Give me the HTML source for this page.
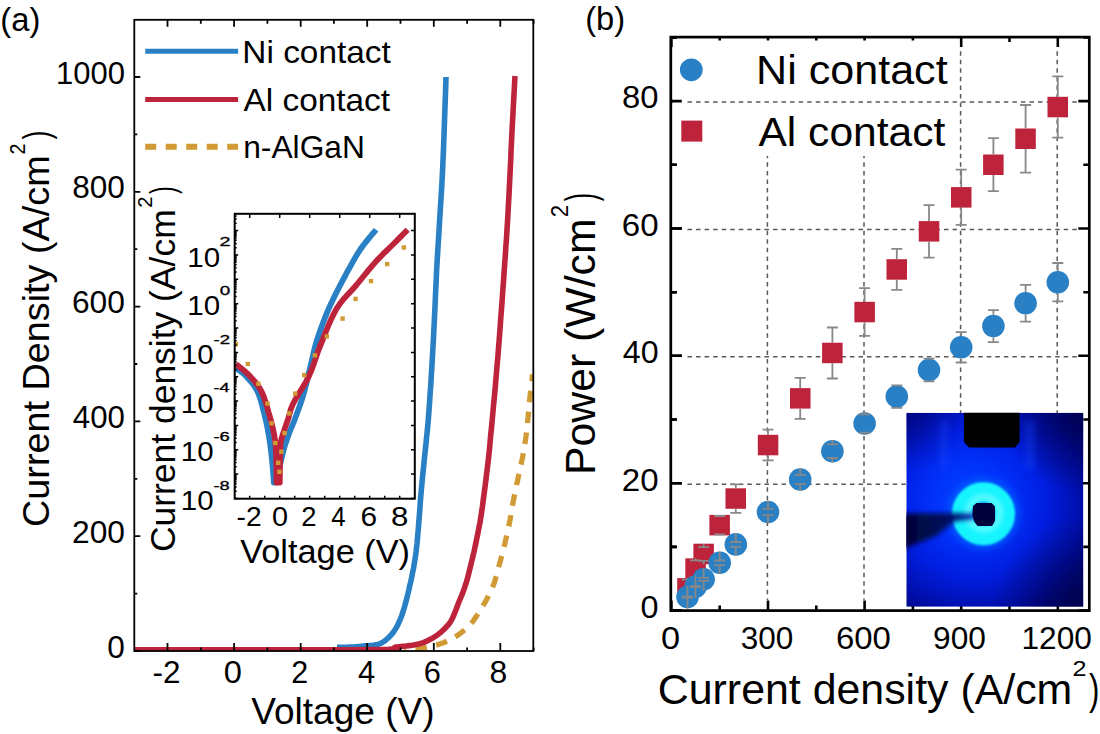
<!DOCTYPE html><html><head><meta charset="utf-8"><style>html,body{margin:0;padding:0;background:#fff;}svg{display:block;}text{font-family:"Liberation Sans", sans-serif;fill:#000;}</style></head><body>
<svg width="1100" height="734" viewBox="0 0 1100 734">
<defs>
<clipPath id="ca"><rect x="134.3" y="19.8" width="399.0" height="631.2"/></clipPath>
<clipPath id="ci"><rect x="234.7" y="213.8" width="180.1" height="284.9"/></clipPath>
</defs>
<text x="0.27" y="31.00" font-size="34.00" textLength="40.07" lengthAdjust="spacingAndGlyphs">(a)</text>
<text x="585.17" y="29.80" font-size="34.00" textLength="39.96" lengthAdjust="spacingAndGlyphs">(b)</text>
<g clip-path="url(#ca)">
<polyline points="532.7,374.4 532.4,376.9 532.0,380.3 531.5,384.4 530.9,388.7 530.4,393.1 530.0,397.0 529.6,400.6 529.3,404.1 529.0,407.6 528.7,411.1 528.3,414.5 528.0,418.0 527.6,421.5 527.3,425.0 526.9,428.5 526.5,432.0 526.1,435.5 525.6,439.0 525.1,442.5 524.5,446.0 523.9,449.6 523.3,453.1 522.7,456.6 522.0,460.0 521.3,463.4 520.6,466.7 519.9,469.9 519.2,473.2 518.4,476.6 517.7,480.0 516.9,483.6 516.2,487.3 515.4,491.0 514.6,494.8 513.8,498.6 513.1,502.2 512.4,505.7 511.8,509.2 511.2,512.7 510.7,516.1 510.1,519.5 509.4,523.0 508.7,526.5 508.0,530.0 507.2,533.5 506.4,536.9 505.6,540.4 504.8,543.9 503.9,547.4 503.1,550.8 502.1,554.3 501.2,557.8 500.3,561.2 499.3,564.7 498.4,568.2 497.5,571.7 496.6,575.1 495.6,578.6 494.5,582.1 493.2,585.6 491.7,589.1 490.1,592.5 488.4,596.0 486.6,599.5 484.7,602.9 482.6,606.4 480.5,609.9 478.2,613.5 475.9,617.1 473.5,620.6 470.8,624.0 468.0,627.0 464.9,629.8 461.6,632.4 458.2,634.9 454.6,637.1 451.0,639.2 447.5,641.0 444.0,642.5 440.4,643.8 436.8,644.9 433.2,645.8 429.6,646.6 426.0,647.3 422.1,647.9 417.9,648.3 413.7,648.5 409.7,648.7 406.4,648.9 404.0,649.0" fill="none" stroke="#d09a35" stroke-width="5.3" stroke-dasharray="11.5 9.5" stroke-dashoffset="4.5" stroke-linejoin="round"/>
<polyline points="337.0,647.3 338.7,647.3 341.0,647.3 343.7,647.2 346.6,647.2 349.5,647.1 352.0,647.0 354.3,646.9 356.6,646.7 358.9,646.5 361.0,646.3 363.0,646.1 364.8,645.9 366.3,645.8 367.5,645.7 368.6,645.7 369.6,645.6 370.7,645.6 371.9,645.4 373.2,645.2 374.7,645.0 376.1,644.7 377.5,644.4 379.0,644.0 380.3,643.5 381.6,642.9 382.8,642.2 383.9,641.5 385.1,640.7 386.2,639.7 387.4,638.7 388.6,637.6 389.8,636.3 391.1,635.0 392.3,633.6 393.5,632.0 394.6,630.4 395.7,628.6 396.7,626.8 397.8,624.8 398.7,622.7 399.7,620.6 400.6,618.4 401.5,616.2 402.3,613.9 403.1,611.5 403.8,609.1 404.6,606.6 405.3,604.1 406.0,601.5 406.7,598.7 407.4,595.9 408.1,593.1 408.8,590.2 409.4,587.4 410.0,584.6 410.7,581.9 411.3,579.2 411.9,576.4 412.4,573.6 413.0,570.7 413.6,567.7 414.1,564.8 414.6,561.8 415.1,558.6 415.6,555.2 416.1,551.6 416.5,547.7 417.0,543.6 417.4,539.3 417.8,534.7 418.2,530.0 418.6,525.0 419.0,519.7 419.5,514.1 419.9,508.2 420.3,502.2 420.8,496.2 421.3,490.3 421.8,484.4 422.4,478.5 423.0,472.6 423.6,466.7 424.2,460.7 424.8,454.8 425.4,449.1 426.0,443.6 426.5,438.2 427.1,432.5 427.7,426.3 428.3,419.4 428.9,411.6 429.5,403.0 430.1,394.0 430.8,384.7 431.3,375.4 431.9,366.3 432.4,357.4 432.9,348.6 433.4,339.7 433.8,330.8 434.3,322.0 434.7,313.1 435.1,304.7 435.4,296.8 435.8,288.9 436.2,280.4 436.6,271.0 437.2,260.0 438.0,247.2 438.9,232.8 439.8,217.5 440.8,201.6 441.8,185.6 442.6,170.0 443.3,153.6 444.0,135.8 444.6,117.9 445.2,101.2 445.7,87.2 446.0,77.0" fill="none" stroke="#2a80c4" stroke-width="5.6" stroke-linejoin="round"/>
<polyline points="134.3,649.9 162.6,649.9 203.8,649.9 251.6,649.8 299.7,649.8 341.9,649.7 371.9,649.5 388.3,649.2 395.9,648.8 397.5,648.4 396.1,648.0 394.6,647.5 395.8,647.1 399.3,646.7 402.8,646.3 406.1,646.0 409.2,645.6 412.2,645.2 414.9,644.7 417.3,644.2 419.4,643.7 421.3,643.2 423.1,642.6 424.9,641.9 426.8,641.1 428.8,640.1 430.8,639.1 432.9,637.9 434.9,636.7 436.9,635.3 438.8,633.9 440.7,632.3 442.7,630.6 444.6,628.7 446.4,626.8 448.1,625.0 449.5,623.2 450.7,621.5 451.6,619.9 452.4,618.3 453.1,616.8 453.8,615.2 454.5,613.5 455.2,611.8 455.9,610.1 456.5,608.3 457.2,606.6 457.8,604.8 458.5,603.0 459.2,601.2 460.0,599.4 460.8,597.6 461.5,595.8 462.3,593.9 463.0,592.0 463.7,590.1 464.4,588.2 465.0,586.2 465.7,584.3 466.4,582.2 467.0,580.0 467.6,577.7 468.3,575.3 468.9,572.8 469.5,570.2 470.2,567.6 470.8,565.0 471.4,562.4 472.1,559.7 472.8,557.0 473.4,554.2 474.1,551.4 474.7,548.5 475.3,545.5 476.0,542.5 476.6,539.4 477.3,536.2 477.9,533.1 478.5,530.0 479.0,527.2 479.5,524.9 480.0,522.5 480.4,519.7 481.0,516.2 481.7,511.5 482.6,505.4 483.5,498.1 484.6,490.1 485.7,481.7 486.7,473.2 487.7,465.2 488.6,457.5 489.4,449.8 490.1,442.0 490.8,434.3 491.6,426.6 492.3,418.9 493.0,411.2 493.7,403.5 494.5,395.8 495.2,388.0 495.8,380.3 496.5,372.6 497.1,365.0 497.8,357.4 498.4,349.9 499.0,342.3 499.6,334.5 500.2,326.3 500.8,317.7 501.5,308.7 502.2,299.5 502.8,290.3 503.5,281.2 504.1,272.4 504.7,263.9 505.3,255.7 505.8,247.6 506.4,239.6 506.9,231.5 507.4,223.4 507.9,215.2 508.3,207.1 508.8,198.9 509.2,190.7 509.6,182.6 510.0,174.4 510.4,166.2 510.8,158.1 511.1,149.9 511.5,141.8 511.9,133.6 512.3,125.4 512.8,116.6 513.3,107.1 513.8,97.6 514.3,88.8 514.7,81.4 515.0,76.0" fill="none" stroke="#be233c" stroke-width="5.6" stroke-linejoin="round"/>
</g>
<rect x="134.3" y="19.8" width="399.0" height="631.2" fill="none" stroke="#000" stroke-width="1.8"/>
<path d="M167.5,651.0V643.0M167.5,19.8V26.8M200.8,651.0V647.5M200.8,19.8V23.8M234.1,651.0V643.0M234.1,19.8V26.8M267.4,651.0V647.5M267.4,19.8V23.8M300.7,651.0V643.0M300.7,19.8V26.8M333.9,651.0V647.5M333.9,19.8V23.8M367.2,651.0V643.0M367.2,19.8V26.8M400.5,651.0V647.5M400.5,19.8V23.8M433.8,651.0V643.0M433.8,19.8V26.8M467.1,651.0V647.5M467.1,19.8V23.8M500.3,651.0V643.0M500.3,19.8V26.8M533.6,651.0V647.5M533.6,19.8V23.8M134.3,651.0H140.3M134.3,593.6H137.3M134.3,536.2H140.3M134.3,478.8H137.3M134.3,421.4H140.3M134.3,364.0H137.3M134.3,306.6H140.3M134.3,249.2H137.3M134.3,191.8H140.3M134.3,134.4H137.3M134.3,77.0H140.3" stroke="#000" stroke-width="1.8" fill="none"/>
<text x="107.37" y="657.50" font-size="31.00" textLength="17.57" lengthAdjust="spacingAndGlyphs">0</text>
<text x="72.01" y="542.70" font-size="31.00" textLength="52.94" lengthAdjust="spacingAndGlyphs">200</text>
<text x="72.88" y="427.90" font-size="31.00" textLength="52.05" lengthAdjust="spacingAndGlyphs">400</text>
<text x="71.98" y="313.10" font-size="31.00" textLength="52.97" lengthAdjust="spacingAndGlyphs">600</text>
<text x="72.24" y="198.30" font-size="31.00" textLength="52.71" lengthAdjust="spacingAndGlyphs">800</text>
<text x="56.05" y="83.50" font-size="31.00" textLength="68.88" lengthAdjust="spacingAndGlyphs">1000</text>
<text x="152.62" y="683.40" font-size="31.00" textLength="27.96" lengthAdjust="spacingAndGlyphs">-2</text>
<text x="223.73" y="683.40" font-size="31.00" textLength="18.15" lengthAdjust="spacingAndGlyphs">0</text>
<text x="291.28" y="683.40" font-size="31.00" textLength="16.95" lengthAdjust="spacingAndGlyphs">2</text>
<text x="357.89" y="683.40" font-size="31.00" textLength="17.21" lengthAdjust="spacingAndGlyphs">4</text>
<text x="423.83" y="683.40" font-size="31.00" textLength="17.13" lengthAdjust="spacingAndGlyphs">6</text>
<text x="489.53" y="683.40" font-size="31.00" textLength="17.75" lengthAdjust="spacingAndGlyphs">8</text>
<text x="251.31" y="723.70" font-size="37.00" textLength="183.29" lengthAdjust="spacingAndGlyphs">Voltage (V)</text>
<text transform="translate(48.80,525.00) rotate(-90)" x="-1.93" y="0.00" font-size="37.20" textLength="371.54" lengthAdjust="spacingAndGlyphs">Current Density (A/cm</text>
<text transform="translate(48.40,525.00) rotate(-90)" x="370.41" y="-23.80" font-size="22.60" textLength="10.98" lengthAdjust="spacingAndGlyphs">2</text>
<text transform="translate(48.80,525.00) rotate(-90)" x="385.54" y="0.00" font-size="37.20" textLength="8.92" lengthAdjust="spacingAndGlyphs">)</text>
<line x1="145.2" y1="51.2" x2="238.1" y2="51.2" stroke="#2a80c4" stroke-width="5"/>
<line x1="145.2" y1="99.6" x2="238.1" y2="99.6" stroke="#be233c" stroke-width="5"/>
<line x1="145.2" y1="146.7" x2="238.1" y2="146.7" stroke="#d09a35" stroke-width="6" stroke-dasharray="11 9.5"/>
<text x="242.36" y="62.60" font-size="31.30" textLength="148.38" lengthAdjust="spacingAndGlyphs">Ni contact</text>
<text x="243.53" y="110.90" font-size="31.30" textLength="146.50" lengthAdjust="spacingAndGlyphs">Al contact</text>
<text x="243.21" y="158.30" font-size="31.50" textLength="121.68" lengthAdjust="spacingAndGlyphs">n-AlGaN</text>
<rect x="234.7" y="213.8" width="180.1" height="284.9" fill="#fff" stroke="none"/>
<g clip-path="url(#ci)">
<polyline points="235.9,368.0 237.0,368.8 238.4,369.8 240.1,371.0 242.0,372.4 243.9,374.0 245.8,375.9 247.7,378.0 249.7,380.2 251.8,382.6 253.9,385.4 255.8,388.4 257.6,391.7 259.2,395.5 260.6,399.8 261.9,404.5 263.1,409.2 264.3,413.7 265.3,418.0 266.2,421.9 267.0,425.6 267.7,429.2 268.3,432.8 268.9,436.3 269.5,440.0 270.1,443.8 270.6,447.7 271.1,451.5 271.5,455.4 271.9,459.2 272.3,462.8 272.6,466.5 273.0,470.3 273.2,474.1 273.5,477.5 273.7,480.4 273.8,482.5 276.5,482.5 276.8,481.1 277.2,479.1 277.7,476.7 278.1,474.2 278.6,471.9 279.0,470.0 279.3,468.6 279.5,467.5 279.7,466.6 279.9,465.6 280.1,464.4 280.5,462.8 281.0,460.7 281.6,458.2 282.2,455.5 283.0,452.6 283.7,449.7 284.5,447.0 285.3,444.3 286.3,441.5 287.2,438.7 288.2,436.0 289.1,433.4 290.0,431.0 290.8,429.0 291.4,427.5 292.1,426.0 292.7,424.5 293.5,422.6 294.5,420.0 295.7,416.8 297.1,413.1 298.6,409.1 300.1,404.8 301.7,400.2 303.1,395.6 304.5,390.7 305.9,385.3 307.2,379.8 308.5,374.2 309.8,368.9 311.0,364.0 312.0,359.7 312.9,355.8 313.7,352.2 314.6,348.5 315.6,344.6 316.9,340.3 318.5,335.5 320.2,330.4 322.2,325.0 324.3,319.5 326.4,314.1 328.7,308.7 331.1,303.4 333.7,298.0 336.4,292.6 339.1,287.3 341.8,282.1 344.5,277.1 347.1,272.2 349.8,267.3 352.4,262.6 355.0,258.0 357.7,253.6 360.3,249.5 363.1,245.5 366.2,241.6 369.2,237.9 372.0,234.5 374.4,231.8 376.1,229.7" fill="none" stroke="#2a80c4" stroke-width="5.8" stroke-linejoin="round"/>
<polyline points="235.9,364.0 237.4,365.2 239.5,366.9 242.1,369.0 244.7,371.2 247.4,373.6 249.7,375.9 251.8,378.2 254.0,380.6 256.0,383.1 258.0,385.7 259.9,388.6 261.6,391.7 263.2,395.3 264.7,399.3 266.0,403.5 267.3,407.7 268.4,411.8 269.5,415.4 270.4,418.6 271.2,421.6 271.9,424.4 272.5,427.0 273.1,429.5 273.6,432.0 274.1,434.3 274.5,436.5 274.8,438.5 275.1,440.5 275.4,442.6 275.6,445.0 275.8,447.6 275.9,450.2 276.1,453.0 276.2,455.9 276.2,458.9 276.3,462.0 276.4,465.5 276.4,469.3 276.4,473.3 276.5,477.1 276.5,480.2 276.5,482.5 279.8,482.5 279.8,480.2 279.8,477.1 279.9,473.3 279.9,469.3 279.9,465.5 280.0,462.0 280.1,458.9 280.1,455.8 280.2,452.8 280.2,449.9 280.3,447.3 280.5,445.0 280.7,443.1 280.9,441.7 281.1,440.4 281.4,439.2 281.8,437.8 282.3,436.0 283.0,433.7 283.9,431.2 284.8,428.5 285.8,425.6 286.8,422.8 287.8,420.0 288.6,417.4 289.2,414.9 289.9,412.5 290.6,409.8 291.7,406.9 293.2,403.5 295.3,399.6 297.8,395.3 300.7,390.6 303.6,385.8 306.5,380.9 309.0,375.9 311.2,370.9 313.1,365.8 314.9,360.6 316.7,355.3 318.6,349.8 320.8,344.3 323.2,338.5 325.6,332.3 328.2,326.0 330.9,319.8 333.7,314.0 336.6,308.7 339.7,304.1 342.9,299.9 346.3,296.1 349.7,292.5 353.1,288.8 356.4,285.0 359.7,281.0 363.1,276.8 366.5,272.7 369.8,268.6 373.0,264.8 376.1,261.3 379.0,258.2 381.7,255.4 384.2,252.9 386.8,250.5 389.3,248.0 391.9,245.5 394.7,242.7 397.8,239.6 400.8,236.6 403.6,233.8 406.0,231.4 407.7,229.7" fill="none" stroke="#be233c" stroke-width="5.8" stroke-linejoin="round"/>
<rect x="233.7" y="342.1" width="4.4" height="4.4" fill="#d09a35"/>
<rect x="245.6" y="361.8" width="4.4" height="4.4" fill="#d09a35"/>
<rect x="256.2" y="381.6" width="4.4" height="4.4" fill="#d09a35"/>
<rect x="265.3" y="401.3" width="4.4" height="4.4" fill="#d09a35"/>
<rect x="269.3" y="421.1" width="4.4" height="4.4" fill="#d09a35"/>
<rect x="273.2" y="440.8" width="4.4" height="4.4" fill="#d09a35"/>
<rect x="276.0" y="460.6" width="4.4" height="4.4" fill="#d09a35"/>
<rect x="277.2" y="469.6" width="4.4" height="4.4" fill="#d09a35"/>
<rect x="279.1" y="449.5" width="4.4" height="4.4" fill="#d09a35"/>
<rect x="282.3" y="430.9" width="4.4" height="4.4" fill="#d09a35"/>
<rect x="287.0" y="411.2" width="4.4" height="4.4" fill="#d09a35"/>
<rect x="293.0" y="391.4" width="4.4" height="4.4" fill="#d09a35"/>
<rect x="302.0" y="372.9" width="4.4" height="4.4" fill="#d09a35"/>
<rect x="312.7" y="353.1" width="4.4" height="4.4" fill="#d09a35"/>
<rect x="324.6" y="334.2" width="4.4" height="4.4" fill="#d09a35"/>
<rect x="340.4" y="316.4" width="4.4" height="4.4" fill="#d09a35"/>
<rect x="353.4" y="296.7" width="4.4" height="4.4" fill="#d09a35"/>
<rect x="368.8" y="278.9" width="4.4" height="4.4" fill="#d09a35"/>
<rect x="385.0" y="261.9" width="4.4" height="4.4" fill="#d09a35"/>
<rect x="401.6" y="245.3" width="4.4" height="4.4" fill="#d09a35"/>
</g>
<rect x="234.7" y="213.8" width="180.1" height="284.9" fill="none" stroke="#000" stroke-width="2"/>
<path d="M249.7,498.7V495.7M249.7,213.8V218.0M264.7,498.7V495.7M279.7,498.7V495.7M279.7,213.8V218.0M294.7,498.7V495.7M309.7,498.7V495.7M309.7,213.8V218.0M324.7,498.7V495.7M339.7,498.7V495.7M339.7,213.8V218.0M354.7,498.7V495.7M369.7,498.7V495.7M369.7,213.8V218.0M384.7,498.7V495.7M399.7,498.7V495.7M399.7,213.8V218.0M234.7,498.5H238.2M414.8,498.5H411.0M234.7,491.2H236.7M234.7,486.9H236.7M234.7,483.8H236.7M234.7,481.5H236.7M234.7,479.6H236.7M234.7,477.9H236.7M234.7,476.5H236.7M234.7,475.3H236.7M234.7,474.1H238.2M414.8,474.1H411.0M234.7,466.8H236.7M234.7,462.5H236.7M234.7,459.5H236.7M234.7,457.1H236.7M234.7,455.2H236.7M234.7,453.6H236.7M234.7,452.2H236.7M234.7,450.9H236.7M234.7,449.8H238.2M414.8,449.8H411.0M234.7,442.5H236.7M234.7,438.2H236.7M234.7,435.1H236.7M234.7,432.8H236.7M234.7,430.9H236.7M234.7,429.2H236.7M234.7,427.8H236.7M234.7,426.6H236.7M234.7,425.4H238.2M414.8,425.4H411.0M234.7,418.1H236.7M234.7,413.8H236.7M234.7,410.8H236.7M234.7,408.4H236.7M234.7,406.5H236.7M234.7,404.9H236.7M234.7,403.5H236.7M234.7,402.2H236.7M234.7,401.1H238.2M414.8,401.1H411.0M234.7,393.8H236.7M234.7,389.5H236.7M234.7,386.4H236.7M234.7,384.1H236.7M234.7,382.2H236.7M234.7,380.5H236.7M234.7,379.1H236.7M234.7,377.9H236.7M234.7,376.8H238.2M414.8,376.8H411.0M234.7,369.4H236.7M234.7,365.1H236.7M234.7,362.1H236.7M234.7,359.7H236.7M234.7,357.8H236.7M234.7,356.2H236.7M234.7,354.8H236.7M234.7,353.5H236.7M234.7,352.4H238.2M414.8,352.4H411.0M234.7,345.1H236.7M234.7,340.8H236.7M234.7,337.7H236.7M234.7,335.4H236.7M234.7,333.5H236.7M234.7,331.8H236.7M234.7,330.4H236.7M234.7,329.2H236.7M234.7,328.1H238.2M414.8,328.1H411.0M234.7,320.7H236.7M234.7,316.4H236.7M234.7,313.4H236.7M234.7,311.0H236.7M234.7,309.1H236.7M234.7,307.5H236.7M234.7,306.1H236.7M234.7,304.8H236.7M234.7,303.7H238.2M414.8,303.7H411.0M234.7,296.4H236.7M234.7,292.1H236.7M234.7,289.0H236.7M234.7,286.7H236.7M234.7,284.8H236.7M234.7,283.1H236.7M234.7,281.7H236.7M234.7,280.5H236.7M234.7,279.3H238.2M414.8,279.3H411.0M234.7,272.0H236.7M234.7,267.7H236.7M234.7,264.7H236.7M234.7,262.3H236.7M234.7,260.4H236.7M234.7,258.8H236.7M234.7,257.4H236.7M234.7,256.1H236.7M234.7,255.0H238.2M414.8,255.0H411.0M234.7,247.7H236.7M234.7,243.4H236.7M234.7,240.3H236.7M234.7,238.0H236.7M234.7,236.1H236.7M234.7,234.4H236.7M234.7,233.0H236.7M234.7,231.8H236.7M234.7,230.6H238.2M414.8,230.6H411.0M234.7,223.3H236.7M234.7,219.0H236.7M234.7,216.0H236.7" stroke="#000" stroke-width="1.5" fill="none"/>
<text x="187.25" y="266.50" font-size="28.30" textLength="32.91" lengthAdjust="spacingAndGlyphs">10</text>
<text x="219.41" y="246.20" font-size="13.60" textLength="10.98" lengthAdjust="spacingAndGlyphs" stroke="#000" stroke-width="0.35">2</text>
<text x="187.25" y="315.20" font-size="28.30" textLength="32.91" lengthAdjust="spacingAndGlyphs">10</text>
<text x="219.67" y="294.90" font-size="13.60" textLength="10.47" lengthAdjust="spacingAndGlyphs" stroke="#000" stroke-width="0.35">0</text>
<text x="180.76" y="363.90" font-size="28.30" textLength="32.80" lengthAdjust="spacingAndGlyphs">10</text>
<text x="213.49" y="343.60" font-size="13.60" textLength="16.44" lengthAdjust="spacingAndGlyphs" stroke="#000" stroke-width="0.35">-2</text>
<text x="180.76" y="412.60" font-size="28.30" textLength="32.80" lengthAdjust="spacingAndGlyphs">10</text>
<text x="213.51" y="392.30" font-size="13.60" textLength="16.02" lengthAdjust="spacingAndGlyphs" stroke="#000" stroke-width="0.35">-4</text>
<text x="180.76" y="461.30" font-size="28.30" textLength="32.80" lengthAdjust="spacingAndGlyphs">10</text>
<text x="213.49" y="441.00" font-size="13.60" textLength="16.32" lengthAdjust="spacingAndGlyphs" stroke="#000" stroke-width="0.35">-6</text>
<text x="180.76" y="510.00" font-size="28.30" textLength="32.80" lengthAdjust="spacingAndGlyphs">10</text>
<text x="213.49" y="489.70" font-size="13.60" textLength="16.30" lengthAdjust="spacingAndGlyphs" stroke="#000" stroke-width="0.35">-8</text>
<text x="236.56" y="526.30" font-size="28.20" textLength="25.05" lengthAdjust="spacingAndGlyphs">-2</text>
<text x="272.07" y="526.30" font-size="28.20" textLength="16.06" lengthAdjust="spacingAndGlyphs">0</text>
<text x="301.13" y="526.30" font-size="28.20" textLength="15.25" lengthAdjust="spacingAndGlyphs">2</text>
<text x="331.31" y="526.30" font-size="28.20" textLength="14.35" lengthAdjust="spacingAndGlyphs">4</text>
<text x="360.57" y="526.30" font-size="28.20" textLength="16.65" lengthAdjust="spacingAndGlyphs">6</text>
<text x="390.96" y="526.30" font-size="28.20" textLength="17.39" lengthAdjust="spacingAndGlyphs">8</text>
<text x="240.23" y="562.50" font-size="32.70" textLength="169.81" lengthAdjust="spacingAndGlyphs">Voltage (V)</text>
<text transform="translate(174.50,550.30) rotate(-90)" x="-1.81" y="0.00" font-size="34.60" textLength="342.76" lengthAdjust="spacingAndGlyphs">Current density (A/cm</text>
<text transform="translate(174.50,550.30) rotate(-90)" x="342.49" y="-22.40" font-size="20.20" textLength="11.22" lengthAdjust="spacingAndGlyphs">2</text>
<text transform="translate(174.50,550.30) rotate(-90)" x="356.26" y="0.00" font-size="34.60" textLength="7.67" lengthAdjust="spacingAndGlyphs">)</text>
<path d="M767.4,51.2V600.0M864.0,51.2V600.0M960.6,51.2V600.0M1057.2,51.2V600.0" stroke="#5a5a5a" stroke-width="1.5" stroke-dasharray="4.5 4.05" fill="none"/>
<path d="M671.4,610.6V600.6M671.4,37.1V47.1M719.7,610.6V605.6M719.7,37.1V42.1M768.0,610.6V600.6M768.0,37.1V47.1M816.3,610.6V605.6M816.3,37.1V42.1M864.6,610.6V600.6M864.6,37.1V47.1M912.9,610.6V605.6M912.9,37.1V42.1M961.2,610.6V600.6M961.2,37.1V47.1M1009.5,610.6V605.6M1009.5,37.1V42.1M1057.8,610.6V600.6M1057.8,37.1V47.1M670.8,610.6H681.8M1089.3,610.6H1078.3M670.8,546.9H676.8M1089.3,546.9H1083.3M670.8,483.2H681.8M1089.3,483.2H1078.3M670.8,419.5H676.8M1089.3,419.5H1083.3M670.8,355.8H681.8M1089.3,355.8H1078.3M670.8,292.2H676.8M1089.3,292.2H1083.3M670.8,228.5H681.8M1089.3,228.5H1078.3M670.8,164.8H676.8M1089.3,164.8H1083.3M670.8,101.1H681.8M1089.3,101.1H1078.3M670.8,37.4H676.8M1089.3,37.4H1083.3" stroke="#000" stroke-width="2.6" fill="none"/>
<rect x="673" y="40.5" width="282" height="115.5" fill="#fff"/>
<path d="M687.5,484.2H1077.3M687.5,356.8H1077.3M687.5,229.5H1077.3M687.5,102.1H1077.3" stroke="#5a5a5a" stroke-width="1.5" stroke-dasharray="4.5 4.05" fill="none"/>
<rect x="670.8" y="37.1" width="418.5" height="573.5" fill="none" stroke="#000" stroke-width="2.7"/>
<path d="M670.8,610.6H681.8M670.8,546.9H676.8M670.8,483.2H681.8M670.8,419.5H676.8M670.8,355.8H681.8M670.8,292.2H676.8M670.8,228.5H681.8M670.8,164.8H676.8M670.8,101.1H681.8M670.8,37.4H676.8" stroke="#000" stroke-width="2.6" fill="none"/>
<rect x="677.2" y="578.1" width="20.5" height="20.5" fill="#be233c"/><rect x="685.3" y="558.3" width="20.5" height="20.5" fill="#be233c"/><rect x="693.4" y="543.7" width="20.5" height="20.5" fill="#be233c"/><rect x="709.4" y="514.9" width="20.5" height="20.5" fill="#be233c"/><rect x="725.5" y="488.3" width="20.5" height="20.5" fill="#be233c"/><rect x="757.8" y="434.8" width="20.5" height="20.5" fill="#be233c"/><rect x="790.0" y="388.1" width="20.5" height="20.5" fill="#be233c"/><rect x="822.1" y="342.7" width="20.5" height="20.5" fill="#be233c"/><rect x="854.4" y="301.8" width="20.5" height="20.5" fill="#be233c"/><rect x="886.5" y="259.2" width="20.5" height="20.5" fill="#be233c"/><rect x="918.8" y="221.1" width="20.5" height="20.5" fill="#be233c"/><rect x="951.0" y="187.1" width="20.5" height="20.5" fill="#be233c"/><rect x="983.1" y="154.5" width="20.5" height="20.5" fill="#be233c"/><rect x="1015.3" y="128.5" width="20.5" height="20.5" fill="#be233c"/><rect x="1047.5" y="96.8" width="20.5" height="20.5" fill="#be233c"/>
<path d="M687.5,578.1V579.7M687.5,598.6V596.9M682.0,579.7H693.0M682.0,596.9H693.0M695.5,558.3V560.3M695.5,578.8V576.9M690.0,560.3H701.0M690.0,576.9H701.0M703.6,543.7V547.1M703.6,564.2V560.8M698.1,547.1H709.1M698.1,560.8H709.1M719.7,514.9V516.0M719.7,535.4V534.4M714.2,516.0H725.2M714.2,534.4H725.2M735.8,488.3V484.3M735.8,508.8V512.8M730.3,484.3H741.3M730.3,512.8H741.3M768.0,434.8V429.7M768.0,455.3V460.3M762.5,429.7H773.5M762.5,460.3H773.5M800.2,388.1V377.8M800.2,408.6V418.8M794.7,377.8H805.7M794.7,418.8H805.7M832.4,342.7V327.5M832.4,363.2V378.5M826.9,327.5H837.9M826.9,378.5H837.9M864.6,301.8V288.2M864.6,322.3V335.8M859.1,288.2H870.1M859.1,335.8H870.1M896.8,259.2V248.9M896.8,279.7V289.9M891.3,248.9H902.3M891.3,289.9H902.3M929.0,221.1V205.1M929.0,241.6V257.7M923.5,205.1H934.5M923.5,257.7H934.5M961.2,187.1V169.7M961.2,207.6V224.9M955.7,169.7H966.7M955.7,224.9H966.7M993.4,154.5V138.2M993.4,175.0V191.2M987.9,138.2H998.9M987.9,191.2H998.9M1025.6,128.5V105.0M1025.6,149.0V172.6M1020.1,105.0H1031.1M1020.1,172.6H1031.1M1057.8,96.8V76.4M1057.8,117.3V137.6M1052.3,76.4H1063.3M1052.3,137.6H1063.3" stroke="#888888" stroke-width="1.8" fill="none"/>
<circle cx="687.5" cy="597.1" r="11.3" fill="#2a80c4"/><circle cx="695.5" cy="586.7" r="11.3" fill="#2a80c4"/><circle cx="703.6" cy="579.3" r="11.3" fill="#2a80c4"/><circle cx="719.7" cy="562.8" r="11.3" fill="#2a80c4"/><circle cx="735.8" cy="544.4" r="11.3" fill="#2a80c4"/><circle cx="768.0" cy="512.0" r="11.3" fill="#2a80c4"/><circle cx="800.2" cy="479.5" r="11.3" fill="#2a80c4"/><circle cx="832.4" cy="451.2" r="11.3" fill="#2a80c4"/><circle cx="864.6" cy="423.5" r="11.3" fill="#2a80c4"/><circle cx="896.8" cy="396.6" r="11.3" fill="#2a80c4"/><circle cx="929.0" cy="370.0" r="11.3" fill="#2a80c4"/><circle cx="961.2" cy="347.3" r="11.3" fill="#2a80c4"/><circle cx="993.4" cy="326.1" r="11.3" fill="#2a80c4"/><circle cx="1025.6" cy="303.2" r="11.3" fill="#2a80c4"/><circle cx="1057.8" cy="282.2" r="11.3" fill="#2a80c4"/>
<path d="M687.5,585.8V596.6M687.5,608.4V597.6M682.0,596.6H693.0M682.0,597.6H693.0M695.5,575.4V586.2M695.5,598.0V587.2M690.0,586.2H701.0M690.0,587.2H701.0M703.6,568.0V577.8M703.6,590.6V580.8M698.1,577.8H709.1M698.1,580.8H709.1M719.7,551.5V560.5M719.7,574.1V565.1M714.2,560.5H725.2M714.2,565.1H725.2M735.8,533.1V542.0M735.8,555.7V546.8M730.3,542.0H741.3M730.3,546.8H741.3M768.0,500.7V508.9M768.0,523.3V515.1M762.5,508.9H773.5M762.5,515.1H773.5M800.2,468.2V474.9M800.2,490.8V484.1M794.7,474.9H805.7M794.7,484.1H805.7M832.4,439.9V444.4M832.4,462.5V458.0M826.9,444.4H837.9M826.9,458.0H837.9M864.6,412.2V414.3M864.6,434.8V432.7M859.1,414.3H870.1M859.1,432.7H870.1M896.8,385.3V385.3M896.8,407.9V407.9M891.3,385.3H902.3M891.3,407.9H902.3M929.0,358.7V358.6M929.0,381.3V381.4M923.5,358.6H934.5M923.5,381.4H934.5M961.2,336.0V332.1M961.2,358.6V362.5M955.7,332.1H966.7M955.7,362.5H966.7M993.4,314.8V310.1M993.4,337.4V342.1M987.9,310.1H998.9M987.9,342.1H998.9M1025.6,291.9V284.8M1025.6,314.5V321.6M1020.1,284.8H1031.1M1020.1,321.6H1031.1M1057.8,270.9V263.0M1057.8,293.5V301.4M1052.3,263.0H1063.3M1052.3,301.4H1063.3" stroke="#888888" stroke-width="1.8" fill="none"/>
<circle cx="691.3" cy="69.8" r="11.4" fill="#2a80c4"/>
<rect x="681.3" y="120.6" width="21" height="21" fill="#be233c"/>
<text x="756.07" y="84.10" font-size="41.30" textLength="191.55" lengthAdjust="spacingAndGlyphs">Ni contact</text>
<text x="758.41" y="146.30" font-size="41.30" textLength="186.99" lengthAdjust="spacingAndGlyphs">Al contact</text>
<text x="640.54" y="618.00" font-size="32.00" textLength="18.03" lengthAdjust="spacingAndGlyphs">0</text>
<text x="621.85" y="490.62" font-size="32.00" textLength="36.75" lengthAdjust="spacingAndGlyphs">20</text>
<text x="622.76" y="363.24" font-size="32.00" textLength="35.81" lengthAdjust="spacingAndGlyphs">40</text>
<text x="621.81" y="235.86" font-size="32.00" textLength="36.79" lengthAdjust="spacingAndGlyphs">60</text>
<text x="622.09" y="108.48" font-size="32.00" textLength="36.50" lengthAdjust="spacingAndGlyphs">80</text>
<text x="660.96" y="648.60" font-size="32.00" textLength="19.08" lengthAdjust="spacingAndGlyphs">0</text>
<text x="740.80" y="648.60" font-size="32.00" textLength="52.54" lengthAdjust="spacingAndGlyphs">300</text>
<text x="835.92" y="648.60" font-size="32.00" textLength="54.88" lengthAdjust="spacingAndGlyphs">600</text>
<text x="933.11" y="648.60" font-size="32.00" textLength="52.84" lengthAdjust="spacingAndGlyphs">900</text>
<text x="1021.50" y="648.60" font-size="32.00" textLength="70.36" lengthAdjust="spacingAndGlyphs">1200</text>
<text x="657.81" y="703.70" font-size="42.40" textLength="414.54" lengthAdjust="spacingAndGlyphs">Current density (A/cm</text>
<text x="1072.64" y="676.00" font-size="21.90" textLength="14.03" lengthAdjust="spacingAndGlyphs">2</text>
<text x="1089.01" y="703.70" font-size="42.40" textLength="10.43" lengthAdjust="spacingAndGlyphs">)</text>
<text transform="translate(595.20,471.40) rotate(-90)" x="-3.50" y="0.00" font-size="42.30" textLength="256.43" lengthAdjust="spacingAndGlyphs">Power (W/cm</text>
<text transform="translate(595.00,471.40) rotate(-90)" x="254.08" y="-27.10" font-size="24.80" textLength="12.44" lengthAdjust="spacingAndGlyphs">2</text>
<text transform="translate(595.20,471.40) rotate(-90)" x="270.25" y="0.00" font-size="42.30" textLength="8.42" lengthAdjust="spacingAndGlyphs">)</text>
<defs>
<radialGradient id="pg" gradientUnits="userSpaceOnUse" cx="975" cy="505" r="135" fx="968" fy="500"><stop offset="0" stop-color="#0044ff"/><stop offset="0.3" stop-color="#0030fa"/><stop offset="0.55" stop-color="#001ee0"/><stop offset="0.8" stop-color="#000eaa"/><stop offset="1" stop-color="#000470"/></radialGradient>
<radialGradient id="tr" gradientUnits="userSpaceOnUse" cx="1083" cy="413" r="80"><stop offset="0" stop-color="#000050" stop-opacity="0.85"/><stop offset="1" stop-color="#000050" stop-opacity="0"/></radialGradient>
<radialGradient id="br" gradientUnits="userSpaceOnUse" cx="1083" cy="607" r="90"><stop offset="0" stop-color="#000040" stop-opacity="0.7"/><stop offset="1" stop-color="#000040" stop-opacity="0"/></radialGradient>
<radialGradient id="tl" gradientUnits="userSpaceOnUse" cx="906" cy="413" r="60"><stop offset="0" stop-color="#000060" stop-opacity="0.5"/><stop offset="1" stop-color="#000060" stop-opacity="0"/></radialGradient>
<radialGradient id="halo" gradientUnits="userSpaceOnUse" cx="983.5" cy="513.5" r="55"><stop offset="0" stop-color="#0098ff" stop-opacity="0.9"/><stop offset="0.55" stop-color="#0068ff" stop-opacity="0.5"/><stop offset="1" stop-color="#0040ff" stop-opacity="0"/></radialGradient>
<linearGradient id="wedge" gradientUnits="userSpaceOnUse" x1="906" y1="0" x2="978" y2="0"><stop offset="0" stop-color="#00043a"/><stop offset="0.6" stop-color="#000e60"/><stop offset="1" stop-color="#0016b0"/></linearGradient>
<filter id="bl" x="-50%" y="-50%" width="200%" height="200%"><feGaussianBlur stdDeviation="2.5"/></filter>
<filter id="bl3" x="-50%" y="-50%" width="200%" height="200%"><feGaussianBlur stdDeviation="3.5"/></filter>
<filter id="bl2" x="-50%" y="-50%" width="200%" height="200%"><feGaussianBlur stdDeviation="1.3"/></filter>
<filter id="bl1" x="-50%" y="-50%" width="200%" height="200%"><feGaussianBlur stdDeviation="0.6"/></filter>
<clipPath id="cp"><rect x="906.3" y="412.8" width="177.1" height="194.0"/></clipPath>
</defs>
<g clip-path="url(#cp)">
<rect x="906.3" y="412.8" width="177.1" height="194.0" fill="url(#pg)"/>
<rect x="906.3" y="412.8" width="177.1" height="194.0" fill="url(#tr)"/>
<rect x="906.3" y="412.8" width="177.1" height="194.0" fill="url(#br)"/>
<rect x="906.3" y="412.8" width="177.1" height="194.0" fill="url(#tl)"/>
<rect x="940" y="420" width="8" height="50" fill="#2050ff" opacity="0.35" filter="url(#bl3)"/>
<rect x="1026" y="420" width="8" height="50" fill="#2050ff" opacity="0.35" filter="url(#bl3)"/>
<circle cx="983.5" cy="513.5" r="36" fill="#0070ff" opacity="0.55" filter="url(#bl3)"/>
<circle cx="983.5" cy="513.8" r="21.5" fill="none" stroke="#18f4ff" stroke-width="20" filter="url(#bl2)"/>
<circle cx="984" cy="513" r="16" fill="none" stroke="#90ffff" stroke-width="6" opacity="0.6" filter="url(#bl)"/>
<polygon points="900,513.5 950,513 974,514 974,519 955,521 936,536 906,548 900,551" fill="url(#wedge)" filter="url(#bl)"/>
<path d="M973,506 L976.5,503 H991.5 L995,506.5 V521 L992,526 H977.5 L974.5,522 L972.5,516 Z" fill="#00003a" filter="url(#bl1)"/>
<path d="M963.9,405 V442 L969,447.6 H1015 L1019.6,442 V405 Z" fill="#000" filter="url(#bl1)"/>
</g>
</svg></body></html>
